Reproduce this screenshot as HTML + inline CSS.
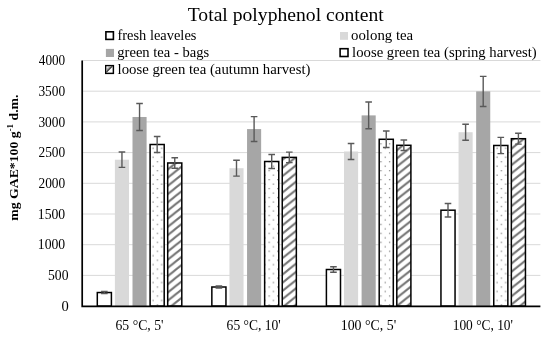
<!DOCTYPE html><html><head><meta charset="utf-8"><style>html,body{margin:0;padding:0;background:#fff;width:550px;height:337px;overflow:hidden}svg{display:block}text{font-family:"Liberation Serif",serif;fill:#000}</style></head><body>
<svg width="550" height="337" viewBox="0 0 550 337">
<defs>
<pattern id="dots" patternUnits="userSpaceOnUse" width="8.6" height="8.95" x="0" y="0"><rect width="8.6" height="8.95" fill="#fff"/><rect x="2" y="0.1" width="1.15" height="1.15" fill="#707070"/><rect x="6.3" y="4.55" width="1.15" height="1.15" fill="#707070"/></pattern>
<pattern id="hatch" patternUnits="userSpaceOnUse" width="10.25" height="8.2" x="0" y="8.5"><rect width="10.25" height="8.2" fill="#fff"/><path d="M-1 -0.50L11.25 -10.30L11.25 -7.70L-1 2.10ZM-1 7.70L11.25 -2.10L11.25 0.50L-1 10.30ZM-1 15.90L11.25 6.10L11.25 8.70L-1 18.50Z" fill="#747474"/></pattern>
</defs>
<rect width="550" height="337" fill="#fff"/>
<line x1="82.20" y1="275.40" x2="540.40" y2="275.40" stroke="#d9d9d9" stroke-width="1"/>
<line x1="82.20" y1="244.70" x2="540.40" y2="244.70" stroke="#d9d9d9" stroke-width="1"/>
<line x1="82.20" y1="214.00" x2="540.40" y2="214.00" stroke="#d9d9d9" stroke-width="1"/>
<line x1="82.20" y1="183.30" x2="540.40" y2="183.30" stroke="#d9d9d9" stroke-width="1"/>
<line x1="82.20" y1="152.60" x2="540.40" y2="152.60" stroke="#d9d9d9" stroke-width="1"/>
<line x1="82.20" y1="121.90" x2="540.40" y2="121.90" stroke="#d9d9d9" stroke-width="1"/>
<line x1="82.20" y1="91.20" x2="540.40" y2="91.20" stroke="#d9d9d9" stroke-width="1"/>
<line x1="82.20" y1="60.50" x2="540.40" y2="60.50" stroke="#d9d9d9" stroke-width="1"/>
<rect x="97.30" y="292.53" width="14.10" height="13.57" fill="#fff" stroke="#000" stroke-width="1.5"/>
<rect x="114.90" y="159.72" width="14.10" height="146.38" fill="#d9d9d9"/>
<rect x="132.50" y="116.99" width="14.10" height="189.11" fill="#a6a6a6"/>
<rect x="150.10" y="144.50" width="14.10" height="161.60" fill="url(#dots)" stroke="#000" stroke-width="1.5"/>
<rect x="167.70" y="162.98" width="14.10" height="143.12" fill="url(#hatch)" stroke="#000" stroke-width="1.5"/>
<rect x="211.85" y="287.00" width="14.10" height="19.10" fill="#fff" stroke="#000" stroke-width="1.5"/>
<rect x="229.45" y="168.20" width="14.10" height="137.90" fill="#d9d9d9"/>
<rect x="247.05" y="129.08" width="14.10" height="177.02" fill="#a6a6a6"/>
<rect x="264.65" y="161.50" width="14.10" height="144.60" fill="url(#dots)" stroke="#000" stroke-width="1.5"/>
<rect x="282.25" y="157.39" width="14.10" height="148.71" fill="url(#hatch)" stroke="#000" stroke-width="1.5"/>
<rect x="326.40" y="269.51" width="14.10" height="36.59" fill="#fff" stroke="#000" stroke-width="1.5"/>
<rect x="344.00" y="151.49" width="14.10" height="154.61" fill="#d9d9d9"/>
<rect x="361.60" y="115.39" width="14.10" height="190.71" fill="#a6a6a6"/>
<rect x="379.20" y="139.28" width="14.10" height="166.82" fill="url(#dots)" stroke="#000" stroke-width="1.5"/>
<rect x="396.80" y="145.29" width="14.10" height="160.81" fill="url(#hatch)" stroke="#000" stroke-width="1.5"/>
<rect x="440.95" y="210.19" width="14.10" height="95.91" fill="#fff" stroke="#000" stroke-width="1.5"/>
<rect x="458.55" y="132.22" width="14.10" height="173.88" fill="#d9d9d9"/>
<rect x="476.15" y="91.38" width="14.10" height="214.72" fill="#a6a6a6"/>
<rect x="493.75" y="145.48" width="14.10" height="160.62" fill="url(#dots)" stroke="#000" stroke-width="1.5"/>
<rect x="511.35" y="138.72" width="14.10" height="167.38" fill="url(#hatch)" stroke="#000" stroke-width="1.5"/>
<path d="M104.35 291.55V293.51M101.05 291.55H107.65M101.05 293.51H107.65" stroke="#595959" stroke-width="1.4" fill="none"/>
<path d="M121.95 152.05V167.40M118.65 152.05H125.25M118.65 167.40H125.25" stroke="#595959" stroke-width="1.4" fill="none"/>
<path d="M139.55 103.48V130.50M136.25 103.48H142.85M136.25 130.50H142.85" stroke="#595959" stroke-width="1.4" fill="none"/>
<path d="M157.15 136.45V152.54M153.85 136.45H160.45M153.85 152.54H160.45" stroke="#595959" stroke-width="1.4" fill="none"/>
<path d="M174.75 157.70V168.26M171.45 157.70H178.05M171.45 168.26H178.05" stroke="#595959" stroke-width="1.4" fill="none"/>
<path d="M218.90 285.96V288.05M215.60 285.96H222.20M215.60 288.05H222.20" stroke="#595959" stroke-width="1.4" fill="none"/>
<path d="M236.50 160.28V176.12M233.20 160.28H239.80M233.20 176.12H239.80" stroke="#595959" stroke-width="1.4" fill="none"/>
<path d="M254.10 116.62V141.55M250.80 116.62H257.40M250.80 141.55H257.40" stroke="#595959" stroke-width="1.4" fill="none"/>
<path d="M271.70 154.44V168.56M268.40 154.44H275.00M268.40 168.56H275.00" stroke="#595959" stroke-width="1.4" fill="none"/>
<path d="M289.30 152.17V162.61M286.00 152.17H292.60M286.00 162.61H292.60" stroke="#595959" stroke-width="1.4" fill="none"/>
<path d="M333.45 266.74V272.27M330.15 266.74H336.75M330.15 272.27H336.75" stroke="#595959" stroke-width="1.4" fill="none"/>
<path d="M351.05 143.51V159.48M347.75 143.51H354.35M347.75 159.48H354.35" stroke="#595959" stroke-width="1.4" fill="none"/>
<path d="M368.65 102.01V128.78M365.35 102.01H371.95M365.35 128.78H371.95" stroke="#595959" stroke-width="1.4" fill="none"/>
<path d="M386.25 130.99V147.57M382.95 130.99H389.55M382.95 147.57H389.55" stroke="#595959" stroke-width="1.4" fill="none"/>
<path d="M403.85 140.07V150.51M400.55 140.07H407.15M400.55 150.51H407.15" stroke="#595959" stroke-width="1.4" fill="none"/>
<path d="M448.00 203.44V216.95M444.70 203.44H451.30M444.70 216.95H451.30" stroke="#595959" stroke-width="1.4" fill="none"/>
<path d="M465.60 124.23V140.20M462.30 124.23H468.90M462.30 140.20H468.90" stroke="#595959" stroke-width="1.4" fill="none"/>
<path d="M483.20 76.34V106.43M479.90 76.34H486.50M479.90 106.43H486.50" stroke="#595959" stroke-width="1.4" fill="none"/>
<path d="M500.80 137.37V153.58M497.50 137.37H504.10M497.50 153.58H504.10" stroke="#595959" stroke-width="1.4" fill="none"/>
<path d="M518.40 133.32V144.13M515.10 133.32H521.70M515.10 144.13H521.70" stroke="#595959" stroke-width="1.4" fill="none"/>
<path d="M82.20 60.50V306.30H540.40" stroke="#000" stroke-width="1.7" fill="none"/>
<text x="61.50" y="310.70" font-size="14.1" textLength="7.26" lengthAdjust="spacingAndGlyphs">0</text>
<text x="48.06" y="280.00" font-size="14.1" textLength="20.46" lengthAdjust="spacingAndGlyphs">500</text>
<text x="37.85" y="249.30" font-size="14.1" textLength="27.37" lengthAdjust="spacingAndGlyphs">1000</text>
<text x="37.85" y="218.60" font-size="14.1" textLength="27.37" lengthAdjust="spacingAndGlyphs">1500</text>
<text x="38.46" y="187.90" font-size="14.1" textLength="26.75" lengthAdjust="spacingAndGlyphs">2000</text>
<text x="38.46" y="157.20" font-size="14.1" textLength="26.75" lengthAdjust="spacingAndGlyphs">2500</text>
<text x="38.41" y="126.50" font-size="14.1" textLength="26.80" lengthAdjust="spacingAndGlyphs">3000</text>
<text x="38.41" y="95.80" font-size="14.1" textLength="26.80" lengthAdjust="spacingAndGlyphs">3500</text>
<text x="38.79" y="65.10" font-size="14.1" textLength="26.41" lengthAdjust="spacingAndGlyphs">4000</text>
<text x="115.51" y="330.4" font-size="14.1" textLength="47.97" lengthAdjust="spacingAndGlyphs">65 °C, 5'</text>
<text x="226.62" y="330.4" font-size="14.1" textLength="54.15" lengthAdjust="spacingAndGlyphs">65 °C, 10'</text>
<text x="340.78" y="330.4" font-size="14.1" textLength="55.40" lengthAdjust="spacingAndGlyphs">100 °C, 5'</text>
<text x="452.72" y="330.4" font-size="14.1" textLength="60.24" lengthAdjust="spacingAndGlyphs">100 °C, 10'</text>
<text x="187.75" y="20.7" font-size="17.9" textLength="196.07" lengthAdjust="spacingAndGlyphs">Total polyphenol content</text>
<text transform="translate(17.6 220.8) rotate(-90)" font-size="13.4" font-weight="bold" textLength="126.3" lengthAdjust="spacingAndGlyphs">mg GAE*100 g<tspan dy="-4.8" font-size="8.6">-1</tspan><tspan dy="4.8"> d.m.</tspan></text>
<rect x="105.90" y="31.80" width="7.50" height="7.60" fill="#fff" stroke="#000" stroke-width="1.6"/>
<text x="117.46" y="40.0" font-size="14.2" textLength="78.97" lengthAdjust="spacingAndGlyphs">fresh leaveles</text>
<rect x="340.00" y="32.00" width="8.00" height="7.80" fill="#d9d9d9"/>
<text x="351.04" y="40.1" font-size="14.2" textLength="62.17" lengthAdjust="spacingAndGlyphs">oolong tea</text>
<rect x="105.90" y="48.90" width="8.10" height="8.10" fill="#a6a6a6"/>
<text x="117.27" y="56.7" font-size="14.2" textLength="91.95" lengthAdjust="spacingAndGlyphs">green tea - bags</text>
<rect x="340.10" y="48.70" width="7.90" height="7.80" fill="#fff" stroke="#000" stroke-width="1.6"/>
<text x="352.11" y="56.7" font-size="14.2" textLength="184.64" lengthAdjust="spacingAndGlyphs">loose green tea (spring harvest)</text>
<rect x="105.00" y="64.90" width="9.10" height="9.20" fill="#000"/>
<rect x="106.45" y="66.35" width="6.20" height="6.30" fill="#fff"/>
<path d="M106.45 66.35H112.65L106.45 72.65Z" fill="#9a9a9a"/>
<path d="M106.15 72.35L112.35 66.05" stroke="#444" stroke-width="1.3"/>
<circle cx="107.65" cy="67.55" r="1" fill="#ddd"/>
<text x="117.60" y="74.3" font-size="14.2" textLength="192.85" lengthAdjust="spacingAndGlyphs">loose green tea (autumn harvest)</text>
</svg></body></html>
